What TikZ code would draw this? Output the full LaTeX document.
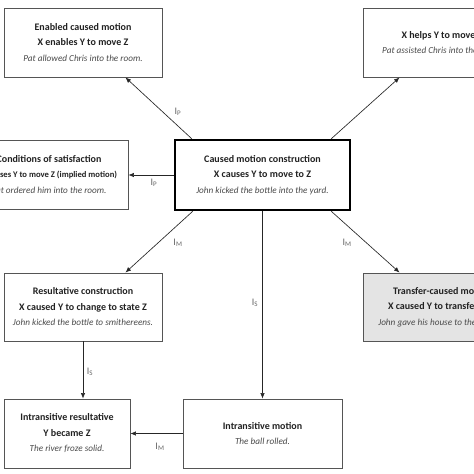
\documentclass[tikz,border=0pt]{standalone}
\usepackage{fontspec}
\setmainfont{Carlito}
\usetikzlibrary{arrows.meta}
\definecolor{txt}{HTML}{222222}
\definecolor{itx}{HTML}{4A4A4A}
\definecolor{bord}{HTML}{555555}
\definecolor{lab}{HTML}{666666}
\definecolor{fillg}{HTML}{E4E4E4}
\newcommand{\ex}[1]{{\fontsize{9.2}{15.5}\selectfont\mdseries\itshape\color{itx}#1}}
\tikzset{
  box/.style={draw=bord, line width=0.9pt, minimum width=158pt, minimum height=69pt,
    align=center, text=txt, inner sep=0pt,
    font=\fontsize{10}{15.5}\selectfont\bfseries},
  mainbox/.style={box, draw=black, line width=2.4pt, minimum width=175pt, minimum height=70pt},
  arr/.style={draw=black!85, line width=0.65pt, -{Latex[length=5.5pt,width=4.5pt]}},
  lbl/.style={text=lab, inner sep=0pt, font=\fontsize{10}{10}\selectfont}
}
\begin{document}
\begin{tikzpicture}[x=1pt,y=-1pt]
\useasboundingbox (0,0) rectangle (474,474);
\clip (0,0) rectangle (474,474);
\fill[white] (0,0) rectangle (474,474);

\node[box] (b1) at (83,42.5) {Enabled caused motion\\X enables Y to move Z\\\ex{Pat allowed Chris into the room.}};
\node[box] (b2) at (442,42.5) {X helps Y to move Z\\\ex{Pat assisted Chris into the room.}};
\node[box] (b3) at (49,174.5) {Conditions of satisfaction\\{\fontsize{8.6}{15.5}\selectfont X causes Y to move Z (implied motion)}\\\ex{Pat ordered him into the room.}};
\node[mainbox] (c) at (262.5,175) {Caused motion construction\\X causes Y to move to Z\\\ex{John kicked the bottle into the yard.}};
\node[box, minimum height=68pt] (r) at (83,307) {Resultative construction\\X caused Y to change to state Z\\\ex{John kicked the bottle to smithereens.}};
\node[box, fill=fillg, minimum height=68pt] (t) at (442,307) {Transfer-caused motion\\X caused Y to transfer to Z\\\ex{John gave his house to the church.}};
\node[box, minimum width=126pt] (ir) at (67,433.5) {Intransitive resultative\\Y became Z\\\ex{The river froze solid.}};
\node[box, minimum width=159pt] (im) at (262.5,433.5) {Intransitive motion\\\ex{The ball rolled.}};

\draw[arr] ([xshift=18pt]c.north west) -- ([xshift=-37pt]b1.south east);
\draw[arr] ([xshift=-20pt]c.north east) -- ([xshift=37pt]b2.south west);
\draw[arr] (c.west) -- (b3.east |- c.west);
\draw[arr] ([xshift=19pt]c.south west) -- ([xshift=-37pt]r.north east);
\draw[arr] ([xshift=-20pt]c.south east) -- ([xshift=37pt]t.north west);
\draw[arr] (c.south) -- (im.north);
\draw[arr] (r.south) -- (r.south |- ir.north);
\draw[arr] (im.west) -- (ir.east);

\node[lbl] (l1) at (178,112) {I\textsubscript{P}};
\node[lbl] (l2) at (154,183) {I\textsubscript{P}};
\node[lbl] (l3) at (178,243) {I\textsubscript{M}};
\node[lbl] (l4) at (347,243) {I\textsubscript{M}};
\node[lbl] (l5) at (255,303) {I\textsubscript{S}};
\node[lbl] (l6) at (90,372) {I\textsubscript{S}};
\node[lbl] (l7) at (160,447) {I\textsubscript{M}};
\end{tikzpicture}
\end{document}
